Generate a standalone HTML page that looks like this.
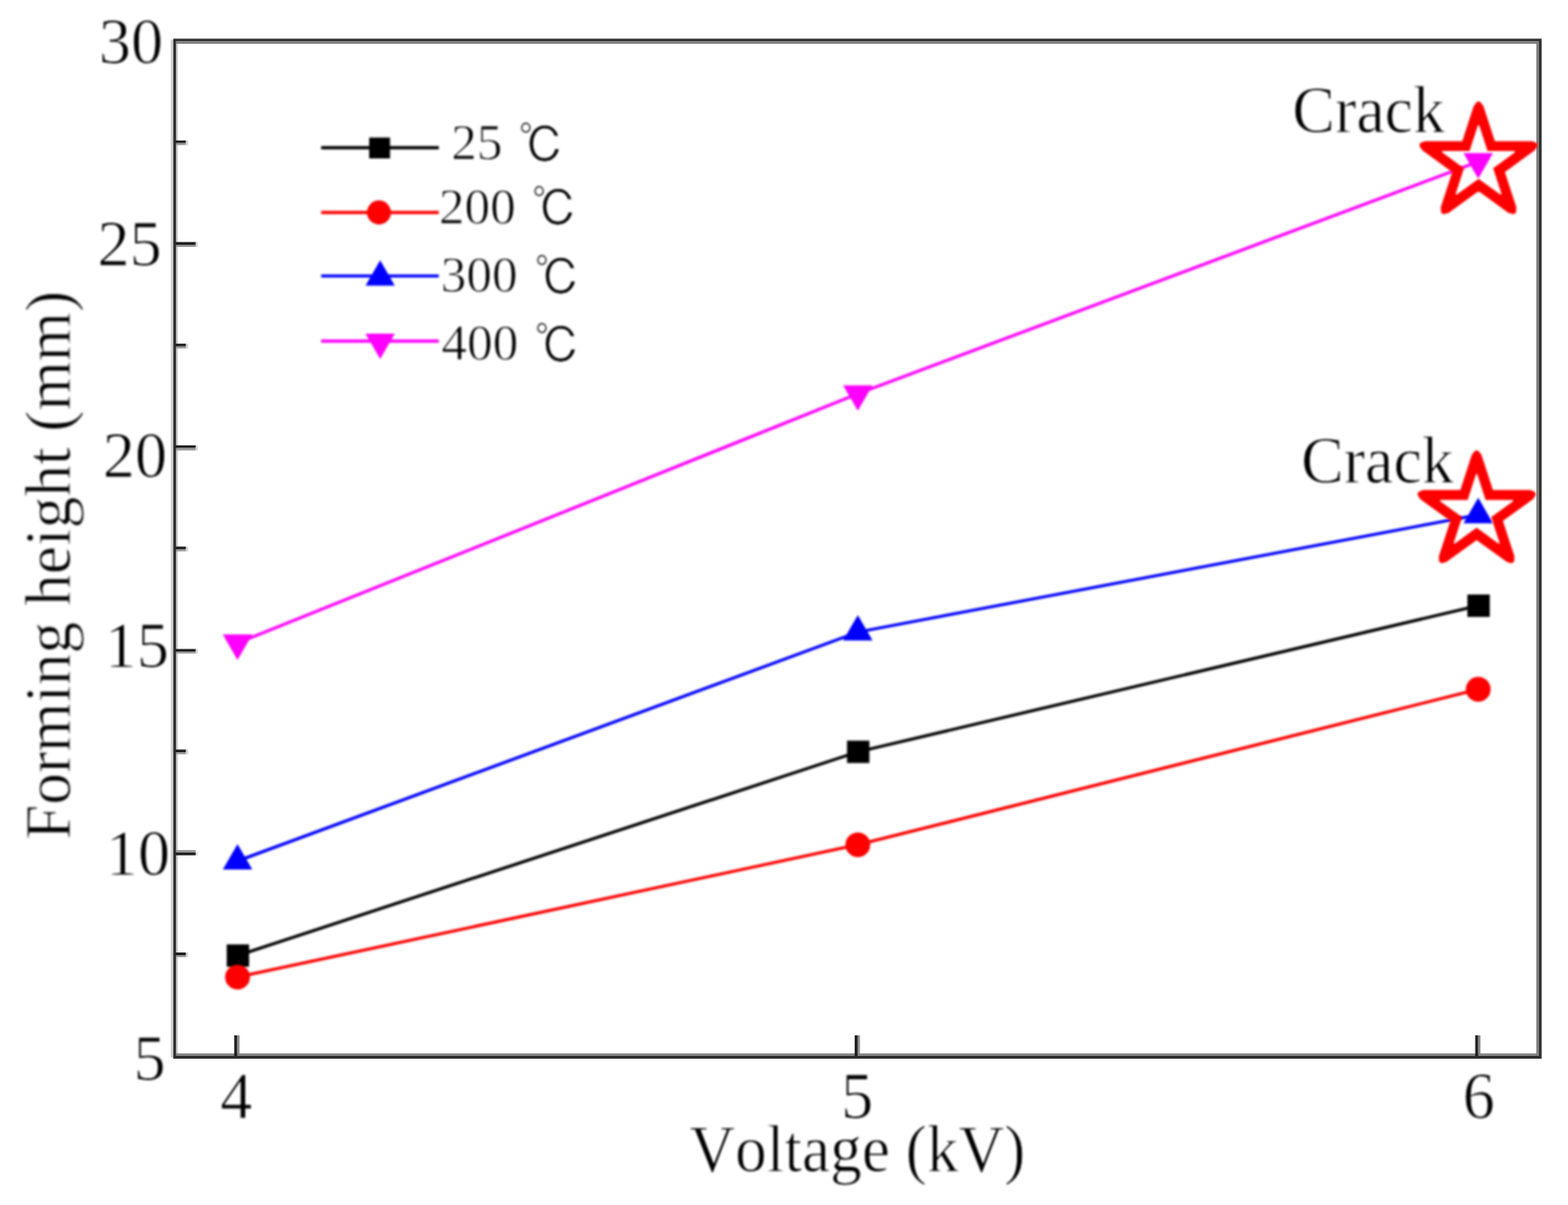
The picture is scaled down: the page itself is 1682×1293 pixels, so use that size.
<!DOCTYPE html>
<html lang="en"><head><meta charset="utf-8"><title>Forming height vs. voltage</title>
<style>
html,body{margin:0;padding:0;background:#fff;}
body{width:1682px;height:1293px;overflow:hidden;}
svg{display:block;}
.soft{filter:blur(0.9px);}
text{font-family:"Liberation Serif","Noto Serif CJK SC",serif;fill:#000;font-kerning:none;stroke:#fff;stroke-width:0.9px;stroke-linejoin:round;}
.deg{font-family:"IPAGothic","Noto Serif CJK SC",serif;}
</style>
</head><body>
<svg width="1682" height="1293" viewBox="0 0 1682 1293" role="img" aria-label="Forming height (mm) versus voltage (kV) at 25, 200, 300 and 400 degrees Celsius">
<rect x="0" y="0" width="1682" height="1293" fill="#ffffff"/>
<g id="series" class="soft">
<polyline points="254.8,1025.37 920.2,806.72 1585.7,649.93" fill="none" stroke="#000000" stroke-width="3.3"/>
<rect x="243.2" y="1013.37" width="24.0" height="24.0" fill="#000000"/>
<rect x="908.6" y="794.72" width="24.0" height="24.0" fill="#000000"/>
<rect x="1574.1" y="637.93" width="24.0" height="24.0" fill="#000000"/>
<polyline points="254.8,1048.45 920.2,906.46 1585.7,739.65" fill="none" stroke="#ff0000" stroke-width="3.3"/>
<circle cx="254.8" cy="1048.45" r="13.3" fill="#ff0000"/>
<circle cx="920.2" cy="906.46" r="13.3" fill="#ff0000"/>
<circle cx="1585.7" cy="739.65" r="13.3" fill="#ff0000"/>
<polyline points="254.8,923.89 920.2,678.24 1585.7,552.36" fill="none" stroke="#0000ff" stroke-width="3.3"/>
<polygon points="254.8,905.64 239,933.01 270.6,933.01" fill="#0000ff"/>
<polygon points="920.2,659.99 904.4,687.36 936,687.36" fill="#0000ff"/>
<polygon points="1585.7,534.12 1569.9,561.48 1601.5,561.48" fill="#0000ff"/>
<polyline points="254.8,690 920.2,422.57 1585.7,173.43" fill="none" stroke="#ff00ff" stroke-width="3.3"/>
<polygon points="254.8,708.24 239,680.87 270.6,680.87" fill="#ff00ff"/>
<polygon points="920.2,440.81 904.4,413.45 936,413.45" fill="#ff00ff"/>
<polygon points="1585.7,191.68 1569.9,164.31 1601.5,164.31" fill="#ff00ff"/>
</g>
<g id="axes">
<rect x="183.2" y="42.6" width="7.7" height="1092.3" fill="#cfcfcf"/>
<rect x="188.8" y="44.1" width="1462.2" height="2.8" fill="#7c7c7c"/>
<rect x="1648.1" y="44.1" width="2.9" height="1088.8" fill="#7c7c7c"/>
<rect x="188.8" y="1130.4" width="1462.2" height="2.5" fill="#7c7c7c"/>
<rect x="188.8" y="912.13" width="21.1" height="2.5" fill="#9a9a9a"/>
<rect x="187.8" y="914.63" width="22.1" height="3.1" fill="#1c1c1c"/>
<rect x="209.9" y="914.63" width="2.2" height="3.1" fill="#d4d4d4"/>
<rect x="188.8" y="699.2" width="21.1" height="2.1" fill="#9a9a9a"/>
<rect x="187.8" y="696.4" width="22.1" height="2.8" fill="#1c1c1c"/>
<rect x="209.9" y="696.4" width="2.2" height="4.9" fill="#d4d4d4"/>
<rect x="188.8" y="480.62" width="21.1" height="2.8" fill="#9a9a9a"/>
<rect x="187.8" y="477.82" width="22.1" height="2.8" fill="#1c1c1c"/>
<rect x="209.9" y="477.82" width="2.2" height="5.6" fill="#d4d4d4"/>
<rect x="188.8" y="262.8" width="21.1" height="2.2" fill="#9a9a9a"/>
<rect x="187.8" y="259.7" width="22.1" height="3.1" fill="#1c1c1c"/>
<rect x="209.9" y="259.7" width="2.2" height="5.3" fill="#d4d4d4"/>
<rect x="188.8" y="1024.96" width="10.8" height="2.2" fill="#9a9a9a"/>
<rect x="187.8" y="1022.06" width="11.8" height="2.9" fill="#1c1c1c"/>
<rect x="199.6" y="1022.06" width="2.2" height="5.1" fill="#d4d4d4"/>
<rect x="188.8" y="807.19" width="10.8" height="2.2" fill="#9a9a9a"/>
<rect x="187.8" y="804.29" width="11.8" height="2.9" fill="#1c1c1c"/>
<rect x="199.6" y="804.29" width="2.2" height="5.1" fill="#d4d4d4"/>
<rect x="188.8" y="589.41" width="10.8" height="2.2" fill="#9a9a9a"/>
<rect x="187.8" y="586.51" width="11.8" height="2.9" fill="#1c1c1c"/>
<rect x="199.6" y="586.51" width="2.2" height="5.1" fill="#d4d4d4"/>
<rect x="188.8" y="371.64" width="10.8" height="2.2" fill="#9a9a9a"/>
<rect x="187.8" y="368.74" width="11.8" height="2.9" fill="#1c1c1c"/>
<rect x="199.6" y="368.74" width="2.2" height="5.1" fill="#d4d4d4"/>
<rect x="188.8" y="153.51" width="10.8" height="2.2" fill="#9a9a9a"/>
<rect x="187.8" y="150.71" width="11.8" height="2.8" fill="#1c1c1c"/>
<rect x="199.6" y="150.71" width="2.2" height="5" fill="#d4d4d4"/>
<rect x="254.4" y="1110.9" width="2.5" height="20.1" fill="#8a8a8a"/>
<rect x="251.3" y="1110.9" width="3.1" height="22.1" fill="#1c1c1c"/>
<rect x="919.9" y="1110.9" width="2.5" height="20.1" fill="#8a8a8a"/>
<rect x="916.8" y="1110.9" width="3.1" height="22.1" fill="#1c1c1c"/>
<rect x="1585.6" y="1110.9" width="2.5" height="20.1" fill="#8a8a8a"/>
<rect x="1582.5" y="1110.9" width="3.1" height="22.1" fill="#1c1c1c"/>
<path d="M185.9,41.6 H1653.7 V1135.9 H185.9 Z M188.8,44.1 V1132.9 H1651.0 V44.1 Z" fill="#2e2e2e" fill-rule="evenodd"/>
</g>
<g id="labels" class="soft">
<g id="ylabels" font-size="69">
<text transform="translate(106,68.2) scale(1,1.012)">30</text>
<text transform="translate(104.5,284.8) scale(1,1.012)">25</text>
<text transform="translate(110.2,512.2) scale(1,1.012)">20</text>
<text transform="translate(112.2,715.7) scale(1,1.012)">15</text>
<text transform="translate(113.6,939.4) scale(1,1.012)">10</text>
<text transform="translate(143.3,1159.3) scale(1,1.012)">5</text>
</g>
<g id="xlabels" font-size="69">
<text transform="translate(236.2,1199.9) scale(1,1.045)">4</text>
<text transform="translate(902.3,1199.7) scale(1,1.045)">5</text>
<text transform="translate(1569,1200.1) scale(1,1.045)">6</text>
</g>
<text transform="translate(919.7,1257.2) scale(1,1.045)" id="xtitle" font-size="68" text-anchor="middle">Voltage (kV)</text>
<text id="ytitle" transform="translate(75.0,606.7) rotate(-90) scale(1,1.03)" font-size="68" text-anchor="middle">Forming height (mm)</text>
</g>
<g id="legend" class="soft" font-size="55">
<line x1="344.5" y1="158.5" x2="470.7" y2="158.5" stroke="#000000" stroke-width="3.3"/>
<rect x="396" y="147.6" width="22.4" height="22.4" fill="#000000"/>
<text x="484.0" y="171.3">25 <tspan class="deg" x="556" dy="3.4" font-size="53" textLength="49.5" lengthAdjust="spacingAndGlyphs">℃</tspan></text>
<line x1="344.5" y1="228.0" x2="470.7" y2="228.0" stroke="#ff0000" stroke-width="3.3"/>
<circle cx="406.5" cy="228" r="12.9" fill="#ff0000"/>
<text x="470.7" y="239.6">200 <tspan class="deg" x="570.3" dy="3.4" font-size="53" textLength="49.5" lengthAdjust="spacingAndGlyphs">℃</tspan></text>
<line x1="344.5" y1="296.2" x2="470.7" y2="296.2" stroke="#0000ff" stroke-width="3.3"/>
<polygon points="407.8,279.27 392.1,306.46 423.5,306.46" fill="#0000ff"/>
<text x="472.8" y="313.1">300 <tspan class="deg" x="573.3" dy="3.4" font-size="53" textLength="49.5" lengthAdjust="spacingAndGlyphs">℃</tspan></text>
<line x1="344.5" y1="366.0" x2="470.7" y2="366.0" stroke="#ff00ff" stroke-width="3.3"/>
<polygon points="407.8,385.13 392.1,357.94 423.5,357.94" fill="#ff00ff"/>
<text x="473.6" y="386.4">400 <tspan class="deg" x="573.3" dy="3.4" font-size="53" textLength="49.5" lengthAdjust="spacingAndGlyphs">℃</tspan></text>
</g>
<g id="cracks" class="soft">
<path d="M1581.64,113.9 L1584.85,109.9 L1587.25,109.9 L1590.46,113.9 L1602.91,152.2 L1643.18,152.2 L1647.97,154.02 L1648.72,156.3 L1645.9,160.59 L1613.32,184.26 L1625.77,222.56 L1625.52,227.69 L1623.58,229.1 L1618.63,227.75 L1586.05,204.08 L1553.47,227.75 L1548.52,229.1 L1546.58,227.69 L1546.33,222.56 L1558.78,184.26 L1526.2,160.59 L1523.38,156.3 L1524.13,154.02 L1528.92,152.2 L1569.19,152.2 Z M1584.81,133.6 L1587.29,133.6 L1596.29,161.3 L1625.42,161.3 L1626.19,163.67 L1602.63,180.79 L1611.63,208.49 L1609.61,209.95 L1586.05,192.83 L1562.49,209.95 L1560.47,208.49 L1569.47,180.79 L1545.91,163.67 L1546.68,161.3 L1575.81,161.3 Z" fill="#ff0000" fill-rule="evenodd" stroke="#ff0000" stroke-width="1.6" stroke-linejoin="round"/>
<path d="M1579.59,488.3 L1582.8,484.3 L1585.2,484.3 L1588.41,488.3 L1600.86,526.6 L1641.13,526.6 L1645.92,528.42 L1646.67,530.7 L1643.85,534.99 L1611.27,558.66 L1623.72,596.96 L1623.47,602.09 L1621.53,603.5 L1616.58,602.15 L1584,578.48 L1551.42,602.15 L1546.47,603.5 L1544.53,602.09 L1544.28,596.96 L1556.73,558.66 L1524.15,534.99 L1521.33,530.7 L1522.08,528.42 L1526.87,526.6 L1567.14,526.6 Z M1582.76,508 L1585.24,508 L1594.24,535.7 L1623.37,535.7 L1624.14,538.07 L1600.58,555.19 L1609.58,582.89 L1607.56,584.35 L1584,567.23 L1560.44,584.35 L1558.42,582.89 L1567.42,555.19 L1543.86,538.07 L1544.63,535.7 L1573.76,535.7 Z" fill="#ff0000" fill-rule="evenodd" stroke="#ff0000" stroke-width="1.6" stroke-linejoin="round"/>
<text transform="translate(1386.3,142.4) scale(1,1.045)" font-size="68.6">Crack</text>
<text transform="translate(1395.7,518.2) scale(1,1.045)" font-size="68.6">Crack</text>
</g>
</svg></body></html>
